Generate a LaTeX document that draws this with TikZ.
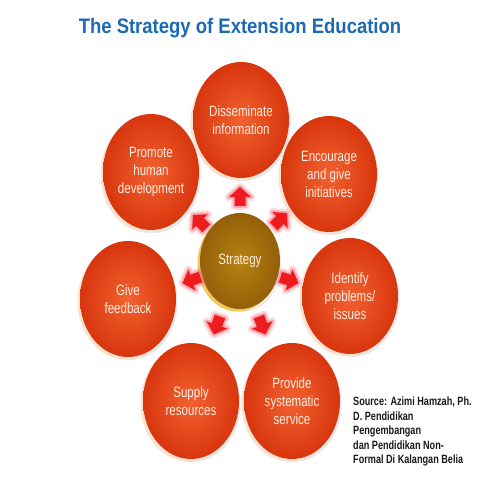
\documentclass[tikz,border=0pt]{standalone}
\usepackage{fontspec}
\setmainfont{Liberation Sans}
\newfontfamily\circfont[FakeStretch=0.77]{Liberation Sans}
\newfontfamily\titlefont[FakeStretch=0.88]{Liberation Sans}
\newfontfamily\srcfont[FakeStretch=0.76]{Liberation Sans}
\usetikzlibrary{shapes.geometric}
\definecolor{titleblue}{HTML}{1D6AB3}
\definecolor{orbin}{HTML}{F2622F}
\definecolor{orbout}{HTML}{D8360E}
\definecolor{orbrim}{HTML}{F9E2D0}
\definecolor{goldin}{HTML}{B7820F}
\definecolor{goldout}{HTML}{94600A}
\definecolor{goldrim}{HTML}{EEC860}
\definecolor{arrowred}{HTML}{EE1B1F}
\definecolor{glow}{HTML}{F46A7A}
\definecolor{orbtext}{HTML}{FDEEE4}
\definecolor{srctext}{HTML}{1A1A1A}
\tikzset{
  orb/.style={ellipse, minimum width=96pt, minimum height=116pt, inner sep=0pt,
    align=center, text=orbtext, font=\circfont\fontsize{15}{18}\selectfont,
    preaction={fill=black!18, opacity=0.5, transform canvas={shift={(1.5pt,-3pt)}}},
    preaction={fill=orbrim, transform canvas={shift={(-2.5pt,-2.5pt)}}},
    inner color=orbin, outer color=orbout},
  hub/.style={ellipse, minimum width=80pt, minimum height=96pt, inner sep=0pt,
    align=center, text=orbtext, font=\circfont\fontsize{15}{18}\selectfont,
    preaction={fill=black!15, opacity=0.5, transform canvas={shift={(1.5pt,-3pt)}}},
    preaction={fill=goldrim, transform canvas={shift={(-2.5pt,-2.5pt)}}},
    inner color=goldin, outer color=goldout},
  arrowshape/.pic={
    \draw[glow, line width=8pt, line join=round, opacity=0.22]
      (-5.5,-9)--(5.5,-9)--(5.5,0)--(11,0)--(0,10)--(-11,0)--(-5.5,0)--cycle;
    \draw[glow, line width=4pt, line join=round, opacity=0.45]
      (-5.5,-9)--(5.5,-9)--(5.5,0)--(11,0)--(0,10)--(-11,0)--(-5.5,0)--cycle;
    \fill[arrowred]
      (-5.5,-9)--(5.5,-9)--(5.5,0)--(11,0)--(0,10)--(-11,0)--(-5.5,0)--cycle;
  }
}
\begin{document}
\begin{tikzpicture}[x=1pt,y=1pt]
\useasboundingbox[fill=white] (0,0) rectangle (480,480);
\node[text=titleblue, font=\titlefont\bfseries\fontsize{21}{24}\selectfont] (title) at (240,452) {The Strategy of Extension Education};

\node[orb] (dis) at (241,360) {Disseminate\\information};
\node[orb] (enc) at (329,306) {Encourage\\and give\\initiatives};
\node[orb] (idf) at (350,184) {Identify\\problems/\\issues};
\node[orb] (pro) at (292,79) {Provide\\systematic\\service};
\node[orb] (sup) at (191,79) {Supply\\resources};
\node[orb] (giv) at (128,181) {Give\\feedback};
\node[orb] (prm) at (151,308) {Promote\\human\\development};

\node[hub] (str) at (240,219) {Strategy};

\pic[rotate=0] at (240,283) {arrowshape};
\pic[rotate=45] at (200,258) {arrowshape};
\pic[rotate=-46] at (280,260) {arrowshape};
\pic[rotate=109] at (192,200) {arrowshape};
\pic[rotate=-108] at (289,200) {arrowshape};
\pic[rotate=161] at (217,155) {arrowshape};
\pic[rotate=-160] at (262,155) {arrowshape};

\node[anchor=north west, align=left, text=srctext, inner sep=0pt,
  font=\srcfont\bfseries\fontsize{12}{14.4}\selectfont] (src) at (353,83)
  {Source: Azimi Hamzah, Ph.\\D. Pendidikan\\Pengembangan\\dan Pendidikan Non-\\Formal Di Kalangan Belia};
\end{tikzpicture}
\end{document}
